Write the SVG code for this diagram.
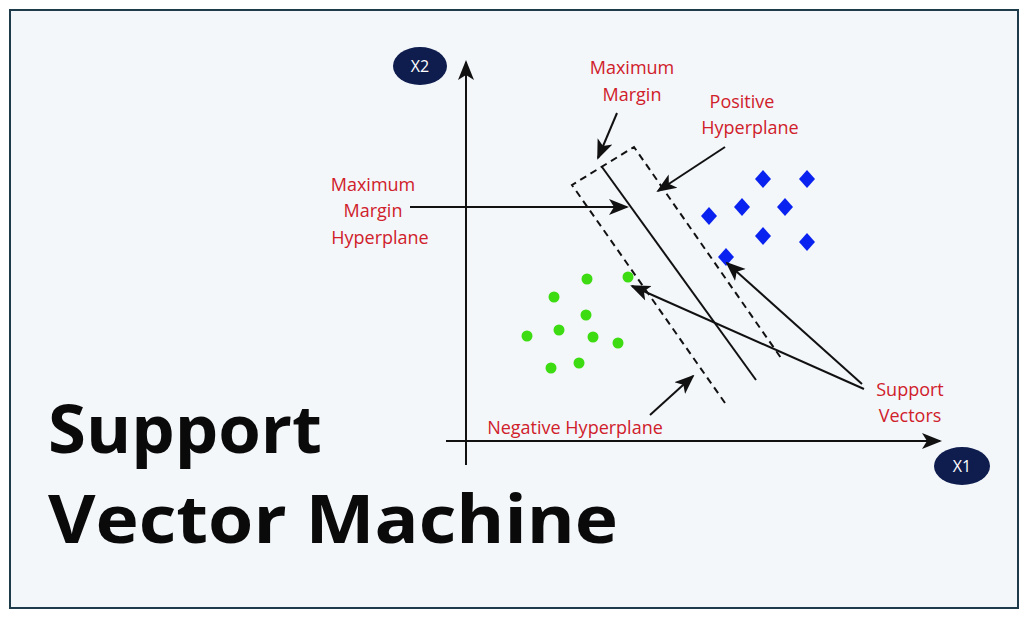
<svg xmlns="http://www.w3.org/2000/svg" width="1024" height="620" viewBox="0 0 1024 620">
<style>
.lbl{font-family:"Open Sans","Liberation Sans",sans-serif;font-size:18px;fill:#d0202a;text-anchor:middle}
.ax{font-family:"Open Sans","Liberation Sans",sans-serif;font-size:16px;fill:#fff;text-anchor:middle}
.ln{stroke:#111;stroke-width:2;fill:none}
.ds{stroke:#111;stroke-width:2;fill:none;stroke-dasharray:7 5}
.g{fill:#3ddc12}.b{fill:#0a22f0}
</style>
<defs>
<marker id="a2" viewBox="0 0 20 20" refX="18" refY="10" markerWidth="20" markerHeight="20" orient="auto" markerUnits="userSpaceOnUse"><path d="M0,2 L20,10 L0,18 L5,10 z" fill="#111"/></marker></defs>
<rect x="0" y="0" width="1024" height="620" fill="#fff"/>
<rect x="10" y="10" width="1008" height="598" fill="#f3f7fa" stroke="#1d3b4a" stroke-width="2"/>
<g id="axes">
<line class="ln" x1="466" y1="465" x2="466" y2="62" marker-end="url(#a2)"/>
<line class="ln" x1="446" y1="441" x2="940" y2="441" marker-end="url(#a2)"/>
</g>
<g id="x2"><ellipse cx="420" cy="66" rx="27" ry="19" fill="#0f1d4e"/><text class="ax" x="420" y="72">X2</text></g>
<g id="x1"><ellipse cx="962" cy="466" rx="28" ry="19" fill="#0f1d4e"/><text class="ax" x="962" y="472">X1</text></g>
<g id="hyperplanes">
<path class="ds" d="M725,403 L572,185 L634,147 L781,358"/>
<line class="ln" x1="602" y1="167" x2="756" y2="380"/>
</g>
<g id="points">
<circle class="g" cx="587" cy="279" r="5.5"/><circle class="g" cx="628" cy="277" r="5.5"/><circle class="g" cx="554" cy="297" r="5.5"/><circle class="g" cx="586" cy="315" r="5.5"/><circle class="g" cx="559" cy="330" r="5.5"/><circle class="g" cx="593" cy="337" r="5.5"/><circle class="g" cx="618" cy="343" r="5.5"/><circle class="g" cx="527" cy="336" r="5.5"/><circle class="g" cx="551" cy="368" r="5.5"/><circle class="g" cx="579" cy="363" r="5.5"/>
<g class="b">
<path d="M763,170l8,9l-8,9l-8,-9z"/><path d="M807,170l8,9l-8,9l-8,-9z"/><path d="M709,207l8,9l-8,9l-8,-9z"/><path d="M742,198l8,9l-8,9l-8,-9z"/><path d="M785,198l8,9l-8,9l-8,-9z"/><path d="M763,227l8,9l-8,9l-8,-9z"/><path d="M807,233l8,9l-8,9l-8,-9z"/><path d="M726,248l8,9l-8,9l-8,-9z"/>
</g>
</g>
<g id="connectors">
<line class="ln" x1="617" y1="113" x2="598" y2="158" marker-end="url(#a2)"/>
<line class="ln" x1="725" y1="147" x2="658" y2="191" marker-end="url(#a2)"/>
<line class="ln" x1="410" y1="207" x2="627" y2="207" marker-end="url(#a2)"/>
<line class="ln" x1="864" y1="389" x2="632" y2="286" marker-end="url(#a2)"/>
<line class="ln" x1="862" y1="384" x2="727" y2="263" marker-end="url(#a2)"/>
<line class="ln" x1="650" y1="415" x2="693" y2="376" marker-end="url(#a2)"/>
</g>
<g id="labels">
<text class="lbl" x="632" y="74">Maximum</text><text class="lbl" x="632" y="101">Margin</text>
<text class="lbl" x="742" y="108">Positive</text><text class="lbl" x="750" y="134">Hyperplane</text>
<text class="lbl" x="373" y="191">Maximum</text><text class="lbl" x="373" y="217">Margin</text><text class="lbl" x="380" y="244">Hyperplane</text>
<text class="lbl" x="910" y="396">Support</text><text class="lbl" x="910" y="422">Vectors</text>
<text class="lbl" x="575" y="434">Negative Hyperplane</text>
</g>
<g id="title" font-family="'Open Sans','Liberation Sans',sans-serif" font-weight="bold" font-size="66" fill="#0a0a0a">
<text x="48" y="453" textLength="274" lengthAdjust="spacingAndGlyphs">Support</text>
<text x="48" y="543" textLength="570" lengthAdjust="spacingAndGlyphs">Vector Machine</text>
</g>
</svg>
